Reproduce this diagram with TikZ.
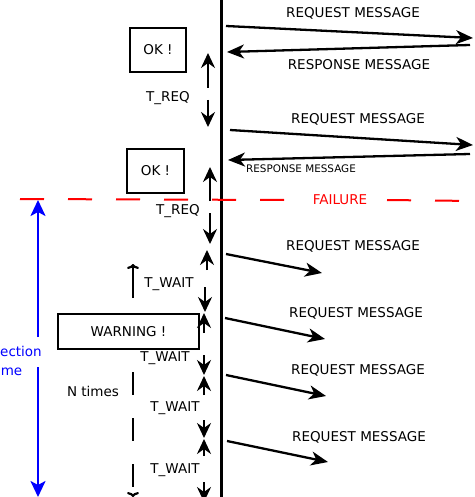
\documentclass[tikz,border=0pt]{standalone}
\usepackage{fontspec}
\setmainfont{DejaVu Sans}
\usetikzlibrary{arrows.meta}
\begin{document}
\begin{tikzpicture}[x=1pt,y=-1pt,
  txt/.style={font=\fontsize{13.5}{18}\selectfont, inner sep=0pt},
  smalltxt/.style={font=\fontsize{10.4}{12}\selectfont, inner sep=0pt},
  box/.style={draw, line width=2pt, inner sep=0pt, font=\fontsize{13.5}{18}\selectfont},
  msg/.style={line width=2.3pt, -{Stealth[length=17pt,width=14pt,inset=5pt]}},
  tarr/.style={line width=2.3pt, -{Stealth[length=15pt,width=14pt,inset=5pt]}},
  openarr/.style={line width=2.2pt, -{To[length=5pt,width=12pt]}},
  faildash/.style={red, line width=2pt, dash pattern=on 24pt off 24pt},
  bluearr/.style={blue, line width=2.5pt, -{Stealth[length=16pt,width=15pt,inset=4pt]}},
]
\useasboundingbox (0,0) rectangle (474,497);
\clip (0,0) rectangle (474,497);
\fill[white] (0,0) rectangle (474,497);

% main time line
\coordinate (ltop) at (221.5,0);
\coordinate (lbot) at (221.5,497);
\draw[line width=2.2pt] (ltop) -- (lbot);

% messages before failure
\coordinate (rq1a) at (226,26);  \coordinate (rq1b) at (473,38);
\coordinate (rs1a) at (470,45);  \coordinate (rs1b) at (227,52);
\coordinate (rq2a) at (230,130); \coordinate (rq2b) at (473,145);
\coordinate (rs2a) at (470,154); \coordinate (rs2b) at (228,160);
\draw[msg] (rq1a) -- (rq1b);
\draw[msg] (rs1a) -- (rs1b);
\draw[msg] (rq2a) -- (rq2b);
\draw[msg] (rs2a) -- (rs2b);
\node[txt] (trq1) at (353,13) {REQUEST MESSAGE};
\node[txt] (trs1) at (359,65) {RESPONSE MESSAGE};
\node[txt] (trq2) at (358,119) {REQUEST MESSAGE};
\node[smalltxt] (trs2) at (301,169) {RESPONSE MESSAGE};

% OK boxes
\node[box, minimum width=56pt, minimum height=44pt] (ok1) at (158,50) {OK !};
\node[box, minimum width=57pt, minimum height=44pt] (ok2) at (155.5,171) {OK !};

% T_REQ arrows
\coordinate (u1a) at (208,88);  \coordinate (u1b) at (208,53);
\coordinate (d1a) at (208,100); \coordinate (d1b) at (208,127);
\draw[tarr] (u1a) -- (u1b);
\draw[tarr] (d1a) -- (d1b);
\node[txt] (treq1) at (168,98) {T\_REQ};
\coordinate (u2a) at (210,201); \coordinate (u2b) at (210,167);
\coordinate (d2a) at (210,213); \coordinate (d2b) at (210,244);
\draw[tarr] (u2a) -- (u2b);
\draw[tarr] (d2a) -- (d2b);
\node[txt] (treq2) at (178,211) {T\_REQ};

% failure line
\node[txt, text=red] (fail) at (340,200) {FAILURE};
\coordinate (fl) at (20,199);  \coordinate (flr) at (284,200);
\coordinate (frl) at (387,200); \coordinate (fr) at (474,201);
\draw[faildash] (fl) -- (flr);
\draw[faildash] (frl) -- (fr);

% messages after failure
\coordinate (rq3a) at (226,254); \coordinate (rq3b) at (322,273);
\coordinate (rq4a) at (225,318); \coordinate (rq4b) at (325,339);
\coordinate (rq5a) at (226,375); \coordinate (rq5b) at (326,396);
\coordinate (rq6a) at (227,441); \coordinate (rq6b) at (328,462);
\draw[msg] (rq3a) -- (rq3b);
\draw[msg] (rq4a) -- (rq4b);
\draw[msg] (rq5a) -- (rq5b);
\draw[msg] (rq6a) -- (rq6b);
\node[txt] (trq3) at (353,246) {REQUEST MESSAGE};
\node[txt] (trq4) at (356,313) {REQUEST MESSAGE};
\node[txt] (trq5) at (358,370) {REQUEST MESSAGE};
\node[txt] (trq6) at (359,437) {REQUEST MESSAGE};

% T_WAIT arrows
\coordinate (w0a) at (207,270); \coordinate (w0b) at (207,250);
\coordinate (w1a) at (205,287); \coordinate (w1b) at (205,312);
\coordinate (w2a) at (204,333); \coordinate (w2b) at (204,313);
\coordinate (w3a) at (204,355); \coordinate (w3b) at (204,375);
\coordinate (w4a) at (204,395); \coordinate (w4b) at (204,376);
\coordinate (w5a) at (204,420); \coordinate (w5b) at (204,438);
\coordinate (w6a) at (204,456); \coordinate (w6b) at (204,439);
\coordinate (w7a) at (204,482); \coordinate (w7b) at (204,502);
\foreach \n in {0,...,7} \draw[tarr] (w\n a) -- (w\n b);
\node[txt] (tw1) at (169,284) {T\_WAIT};
\node[txt] (tw2) at (165,358) {T\_WAIT};
\node[txt] (tw3) at (175,408) {T\_WAIT};
\node[txt] (tw4) at (175,470) {T\_WAIT};

% warning box
\node[box, minimum width=141pt, minimum height=35pt] (warn) at (128.5,331.5) {WARNING !};

% left T_WAIT arrow and N times
\coordinate (la) at (133,298); \coordinate (lb) at (133,264);
\draw[openarr] (la) -- (lb);
\coordinate (na) at (133,372); \coordinate (nb) at (133,497);
\draw[openarr, dash pattern=on 23pt off 23pt] (na) -- (nb);
\node[txt] (ntimes) at (93,391) {N times};

% detection time (cut by the left edge, as in the reference)
\coordinate (ba) at (38,337); \coordinate (bb) at (38,200);
\coordinate (bc) at (38,367); \coordinate (bd) at (38,497);
\draw[bluearr] (ba) -- (bb);
\draw[bluearr] (bc) -- (bd);
\node[txt, text=blue, anchor=east] (det1) at (42,351) {Detection};
\node[txt, text=blue, anchor=east] (det2) at (22.5,370) {time};
\end{tikzpicture}
\end{document}
